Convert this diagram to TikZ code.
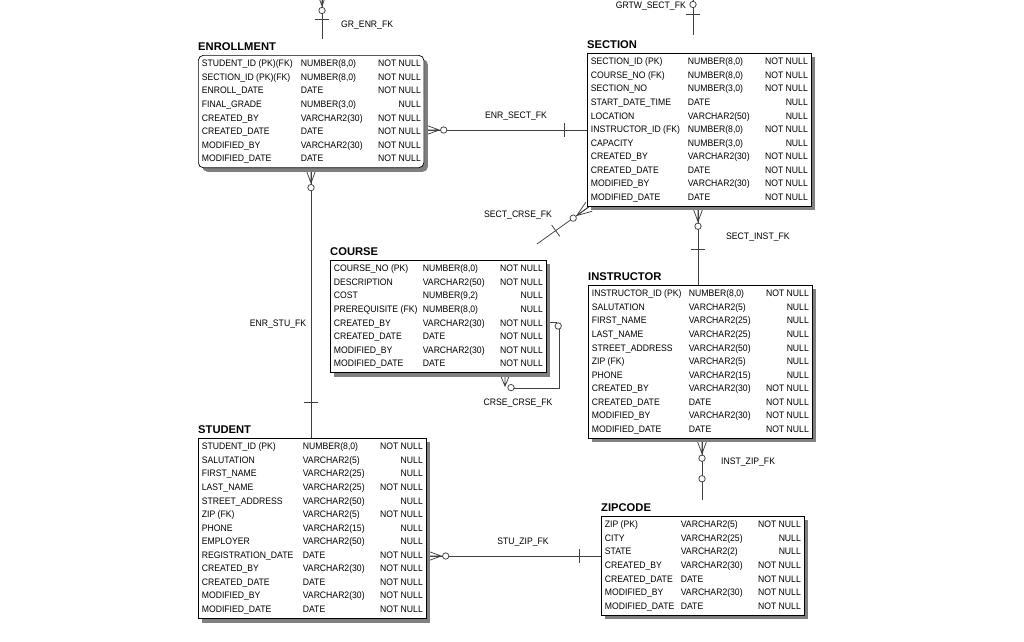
\documentclass[tikz,border=0pt]{standalone}
\usepackage{fontspec}
\usepackage{array}
\newfontfamily\erdfont[FakeStretch=0.92]{Liberation Sans}
\newfontfamily\erdtitlefont{Liberation Sans}
\usetikzlibrary{calc,positioning,shadows}
\pgfdeclarelayer{background}
\pgfsetlayers{background,main}
\setlength{\tabcolsep}{0pt}
% name / type / null columns of a table
\newcolumntype{N}[1]{@{\hspace{3.5pt}}w{l}{#1}w{l}{72pt}w{r}{48pt}@{\hspace{3pt}}}
\tikzset{
  tbl/.style={draw=black, fill=white, line width=0.7pt, anchor=north west,
    inner xsep=0pt, inner ysep=2pt, font=\fontsize{9.4}{13.55}\selectfont\erdfont,
    drop shadow={shadow xshift=4pt, shadow yshift=-4pt, fill=black!50, opacity=1}},
  tbltitle/.style={inner sep=0pt, font=\fontsize{11.2}{13}\selectfont\erdtitlefont\bfseries},
  rel/.style={draw=black!75, line width=0.75pt},
  rellabel/.style={inner sep=0pt, font=\fontsize{9.4}{11}\selectfont\erdfont},
  crowo/.pic={
    \draw[rel] (0,-5.5) -- (15,0) -- (0,5.5) (0,0) -- (15,0);
    \draw[rel, fill=white] (19.5,0) circle (3.2pt);
  },
  onebar/.pic={\draw[rel] (0,-7) -- (0,7);}
}

\begin{document}
\begin{tikzpicture}[x=1pt, y=-1pt]
    \useasboundingbox (0,0) rectangle (1024,641);

    % tables
    \node[tbl, rounded corners=5pt] (enr) at (198,55) {\begin{tabular}{N{99pt}}
        STUDENT\_ID (PK)(FK) & NUMBER(8,0) & NOT NULL\\
        SECTION\_ID (PK)(FK) & NUMBER(8,0) & NOT NULL\\
        ENROLL\_DATE & DATE & NOT NULL\\
        FINAL\_GRADE & NUMBER(3,0) & NULL\\
        CREATED\_BY & VARCHAR2(30) & NOT NULL\\
        CREATED\_DATE & DATE & NOT NULL\\
        MODIFIED\_BY & VARCHAR2(30) & NOT NULL\\
        MODIFIED\_DATE & DATE & NOT NULL
    \end{tabular}};
    \node[tbltitle, above=5pt of enr.north west, anchor=base west] (enrt) {ENROLLMENT};

    \node[tbl] (sec) at (587,53) {\begin{tabular}{N{97pt}}
        SECTION\_ID (PK) & NUMBER(8,0) & NOT NULL\\
        COURSE\_NO (FK) & NUMBER(8,0) & NOT NULL\\
        SECTION\_NO & NUMBER(3,0) & NOT NULL\\
        START\_DATE\_TIME & DATE & NULL\\
        LOCATION & VARCHAR2(50) & NULL\\
        INSTRUCTOR\_ID (FK) & NUMBER(8,0) & NOT NULL\\
        CAPACITY & NUMBER(3,0) & NULL\\
        CREATED\_BY & VARCHAR2(30) & NOT NULL\\
        CREATED\_DATE & DATE & NOT NULL\\
        MODIFIED\_BY & VARCHAR2(30) & NOT NULL\\
        MODIFIED\_DATE & DATE & NOT NULL
    \end{tabular}};
    \node[tbltitle, above=5pt of sec.north west, anchor=base west] (sect) {SECTION};

    \node[tbl] (cou) at (330,260) {\begin{tabular}{N{89pt}}
        COURSE\_NO (PK) & NUMBER(8,0) & NOT NULL\\
        DESCRIPTION & VARCHAR2(50) & NOT NULL\\
        COST & NUMBER(9,2) & NULL\\
        PREREQUISITE (FK) & NUMBER(8,0) & NULL\\
        CREATED\_BY & VARCHAR2(30) & NOT NULL\\
        CREATED\_DATE & DATE & NOT NULL\\
        MODIFIED\_BY & VARCHAR2(30) & NOT NULL\\
        MODIFIED\_DATE & DATE & NOT NULL
    \end{tabular}};
    \node[tbltitle, above=5pt of cou.north west, anchor=base west] (cout) {COURSE};

    \node[tbl] (ins) at (588,285) {\begin{tabular}{N{97pt}}
        INSTRUCTOR\_ID (PK) & NUMBER(8,0) & NOT NULL\\
        SALUTATION & VARCHAR2(5) & NULL\\
        FIRST\_NAME & VARCHAR2(25) & NULL\\
        LAST\_NAME & VARCHAR2(25) & NULL\\
        STREET\_ADDRESS & VARCHAR2(50) & NULL\\
        ZIP (FK) & VARCHAR2(5) & NULL\\
        PHONE & VARCHAR2(15) & NULL\\
        CREATED\_BY & VARCHAR2(30) & NOT NULL\\
        CREATED\_DATE & DATE & NOT NULL\\
        MODIFIED\_BY & VARCHAR2(30) & NOT NULL\\
        MODIFIED\_DATE & DATE & NOT NULL
    \end{tabular}};
    \node[tbltitle, above=5pt of ins.north west, anchor=base west] (inst) {INSTRUCTOR};

    \node[tbl] (stu) at (198,438) {\begin{tabular}{N{101pt}}
        STUDENT\_ID (PK) & NUMBER(8,0) & NOT NULL\\
        SALUTATION & VARCHAR2(5) & NULL\\
        FIRST\_NAME & VARCHAR2(25) & NULL\\
        LAST\_NAME & VARCHAR2(25) & NOT NULL\\
        STREET\_ADDRESS & VARCHAR2(50) & NULL\\
        ZIP (FK) & VARCHAR2(5) & NOT NULL\\
        PHONE & VARCHAR2(15) & NULL\\
        EMPLOYER & VARCHAR2(50) & NULL\\
        REGISTRATION\_DATE & DATE & NOT NULL\\
        CREATED\_BY & VARCHAR2(30) & NOT NULL\\
        CREATED\_DATE & DATE & NOT NULL\\
        MODIFIED\_BY & VARCHAR2(30) & NOT NULL\\
        MODIFIED\_DATE & DATE & NOT NULL
    \end{tabular}};
    \node[tbltitle, above=5pt of stu.north west, anchor=base west] (stut) {STUDENT};

    \node[tbl] (zip) at (601,516) {\begin{tabular}{N{76pt}}
        ZIP (PK) & VARCHAR2(5) & NOT NULL\\
        CITY & VARCHAR2(25) & NULL\\
        STATE & VARCHAR2(2) & NULL\\
        CREATED\_BY & VARCHAR2(30) & NOT NULL\\
        CREATED\_DATE & DATE & NOT NULL\\
        MODIFIED\_BY & VARCHAR2(30) & NOT NULL\\
        MODIFIED\_DATE & DATE & NOT NULL
    \end{tabular}};
    \node[tbltitle, above=5pt of zip.north west, anchor=base west] (zipt) {ZIPCODE};

    % relationships
    \begin{pgfonlayer}{background}
    \fill[white] (0,0) rectangle (1024,641);

    % GR_ENR_FK
    \coordinate (ge1) at ($(enr.north west)+(124,-64)$);
    \coordinate (ge2) at ($(enr.north west)+(124,-16)$);
    \draw[rel] (ge1) -- (ge2);
    \pic[rotate=-90] at (ge1) {crowo};
    \pic[rotate=-90] at ($(ge1)+(0,28)$) {onebar};
    \node[rellabel, anchor=west] (gel) at (341,25) {GR\_ENR\_FK};

    % GRTW_SECT_FK
    \coordinate (gs1) at ($(sec.north west)+(106,-68)$);
    \coordinate (gs2) at ($(sec.north west)+(106,-18)$);
    \draw[rel] (gs1) -- (gs2);
    \pic[rotate=-90] at (gs1) {crowo};
    \pic[rotate=-90] at ($(gs1)+(0,29)$) {onebar};
    \node[rellabel, anchor=east] (gsl) at (686,6) {GRTW\_SECT\_FK};

    % ENR_SECT_FK
    \coordinate (es1) at ($(enr.north east)+(0,75)$);
    \coordinate (es2) at (sec.west |- es1);
    \draw[rel] (es1) -- (es2);
    \pic at (es1) {crowo};
    \pic at ($(es2)+(-23,0)$) {onebar};
    \node[rellabel] (esl) at (516,116) {ENR\_SECT\_FK};

    % ENR_STU_FK
    \coordinate (ens1) at ($(enr.south west)+(113,0)$);
    \coordinate (ens2) at (stu.north -| ens1);
    \draw[rel] (ens1) -- (ens2);
    \pic[rotate=-90] at (ens1) {crowo};
    \pic[rotate=-90] at ($(ens2)+(0,-36)$) {onebar};
    \node[rellabel] (ensl) at (278,324) {ENR\_STU\_FK};

    % SECT_CRSE_FK
    \coordinate (scc1) at ($(sec.south west)+(2,0)$);
    \coordinate (scc2) at (537,244);
    \draw[rel] (scc1) -- (scc2);
    \pic[rotate=-144.2] at (scc1) {crowo};
    \pic[rotate=-144.2] at ($(scc1)!41pt!(scc2)$) {onebar};
    \node[rellabel] (sccl) at (518,215) {SECT\_CRSE\_FK};

    % SECT_INST_FK
    \coordinate (si1) at ($(sec.south west)+(111,0)$);
    \coordinate (si2) at (ins.north -| si1);
    \draw[rel] (si1) -- (si2);
    \pic[rotate=-90] at (si1) {crowo};
    \pic[rotate=-90] at ($(si2)+(0,-36)$) {onebar};
    \node[rellabel, anchor=west] (sil) at (726,237) {SECT\_INST\_FK};

    % CRSE_CRSE_FK
    \coordinate (cc1) at ($(cou.north east)+(0,62)$);
    \coordinate (cc2) at ($(cou.south west)+(175,0)$);
    \draw[rel] (cc1) -- ++(11,0);
    \draw[rel] ($(cc1)+(13.5,7)$) |- ($(cc2)+(9,15)$);
    \draw[rel] ($(cc2)+(-5.5,0)$) -- ($(cc2)+(0,13)$) -- ($(cc2)+(5.5,0)$) (cc2) -- ($(cc2)+(0,13)$);
    \draw[rel, fill=white] ($(cc1)+(12,4)$) circle (3.2pt);
    \draw[rel, fill=white] ($(cc2)+(6,14.5)$) circle (3.2pt);
    \node[rellabel] (ccl) at (518,403) {CRSE\_CRSE\_FK};

    % INST_ZIP_FK
    \coordinate (iz1) at ($(ins.south west)+(114,0)$);
    \coordinate (iz2) at ($(zip.north west)+(101,-16)$);
    \draw[rel] (iz1) -- (iz2);
    \pic[rotate=-90] at (iz1) {crowo};
    \draw[rel, fill=white] ($(iz1)+(0,40)$) circle (3.2pt);
    \node[rellabel, anchor=west] (izl) at (721,462) {INST\_ZIP\_FK};

    % STU_ZIP_FK
    \coordinate (sz1) at ($(stu.north east)+(0,118)$);
    \coordinate (sz2) at (zip.west |- sz1);
    \draw[rel] (sz1) -- (sz2);
    \pic at (sz1) {crowo};
    \pic at ($(sz2)+(-22,0)$) {onebar};
    \node[rellabel] (szl) at (523,542) {STU\_ZIP\_FK};
    \end{pgfonlayer}
\end{tikzpicture}
\end{document}
